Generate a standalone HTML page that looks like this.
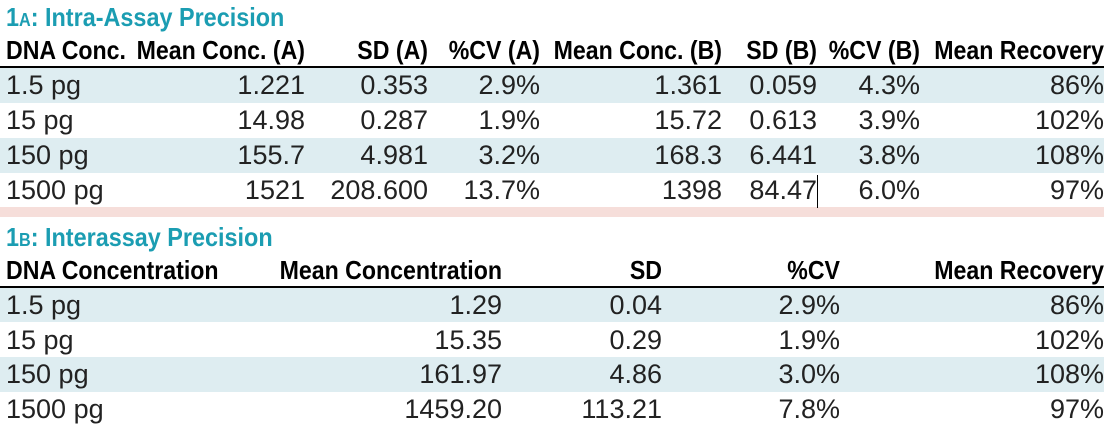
<!DOCTYPE html>
<html><head><meta charset="utf-8"><style>
body{margin:0;width:1104px;height:423px;background:#fff;position:relative;overflow:hidden;font-family:"Liberation Sans",sans-serif}
.t{position:absolute;left:6px;color:#1b9db2;font-weight:bold;font-size:26px;white-space:nowrap;transform:scaleX(0.9);transform-origin:0 0}
.t small{font-size:18px}
.band{position:absolute;left:0;width:1104px}
.h,.d{position:absolute;white-space:nowrap}
.h{font-weight:bold;font-size:26px;color:#000;transform:scaleX(0.89);transform-origin:0 0}
.h.r{transform:translateX(-100%) scaleX(0.89);transform-origin:100% 0}
.d{font-size:27px;color:#222;font-weight:300}
.d.r{transform:translateX(-100%)}
</style></head><body>
<div class="t" style="top:2px">1<small>A</small>: Intra-Assay Precision</div>
<div class="band" style="top:66px;height:2px;background:#000"></div>
<div class="band" style="top:68px;height:35px;background:#deedf1"></div>
<div class="band" style="top:138px;height:35px;background:#deedf1"></div>
<div class="band" style="top:207px;height:10px;background:#f6deda"></div>
<div style="position:absolute;left:817px;top:175px;width:1px;height:33px;background:#000"></div>
<div class="t" style="top:222px">1<small>B</small>: Interassay Precision</div>
<div class="band" style="top:286px;height:2px;background:#000"></div>
<div class="band" style="top:288px;height:34px;background:#deedf1"></div>
<div class="band" style="top:357px;height:35px;background:#deedf1"></div>
<div id="c"></div>
<script>
var c=document.getElementById('c'),s='';
function add(cls,x,y,txt,right){s+='<div class="'+cls+(right?' r':'')+'" style="left:'+x+'px;top:'+y+'px">'+txt+'</div>';}
var hx=[[6,'DNA Conc.',0],[305,'Mean Conc. (A)',1],[428,'SD (A)',1],[540,'%CV (A)',1],[722,'Mean Conc. (B)',1],[817,'SD (B)',1],[920,'%CV (B)',1],[1104,'Mean Recovery',1]];
hx.forEach(h=>add('h',h[0],35,h[1],h[2]));
var rows=[['1.5 pg','1.221','0.353','2.9%','1.361','0.059','4.3%','86%'],['15 pg','14.98','0.287','1.9%','15.72','0.613','3.9%','102%'],['150 pg','155.7','4.981','3.2%','168.3','6.441','3.8%','108%'],['1500 pg','1521','208.600','13.7%','1398','84.47','6.0%','97%']];
rows.forEach((r,i)=>{var y=70+i*35;r.forEach((v,j)=>add('d',hx[j][0],y,v,hx[j][2]));});
var hb=[[6,'DNA Concentration',0],[502,'Mean Concentration',1],[662,'SD',1],[840,'%CV',1],[1104,'Mean Recovery',1]];
hb.forEach(h=>add('h',h[0],255,h[1],h[2]));
var rb=[['1.5 pg','1.29','0.04','2.9%','86%'],['15 pg','15.35','0.29','1.9%','102%'],['150 pg','161.97','4.86','3.0%','108%'],['1500 pg','1459.20','113.21','7.8%','97%']];
rb.forEach((r,i)=>{var y=290+i*34.7;r.forEach((v,j)=>add('d',hb[j][0],y,v,hb[j][2]));});
c.innerHTML=s;
</script>
</body></html>
